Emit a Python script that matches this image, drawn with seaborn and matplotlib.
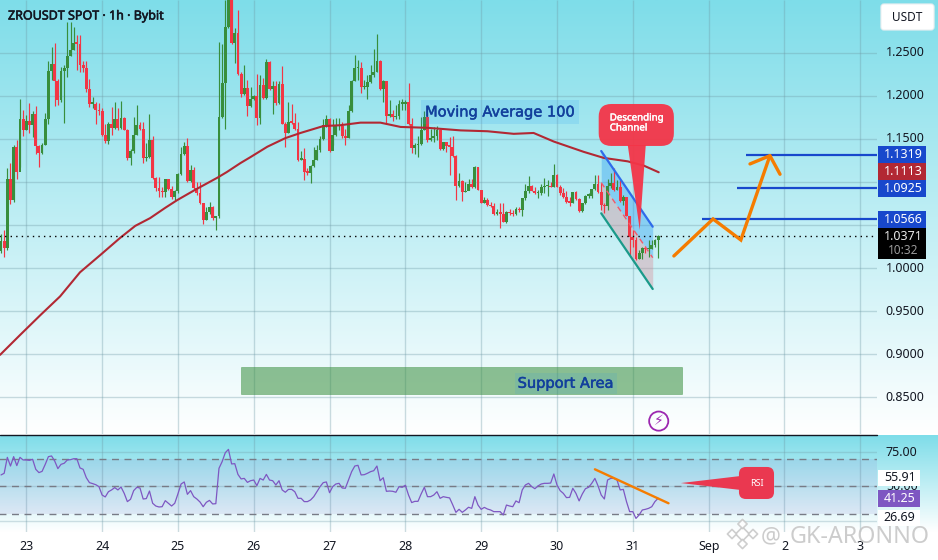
#!/usr/bin/env python
# -*- coding: utf-8 -*-
"""ZROUSDT 1h candles with MA100, channel drawing and an RSI pane."""

import numpy as np
import matplotlib
matplotlib.use('Agg')
import matplotlib.pyplot as plt
import matplotlib.patheffects as pe
import seaborn as sns
from matplotlib.colors import LinearSegmentedColormap
from matplotlib.patches import FancyBboxPatch, Polygon, Rectangle

# Hourly candles
first_open = 1.020
closes = [
    1.031, 1.023, 1.103, 1.079, 1.141, 1.112, 1.173, 1.160, 1.171, 1.166,
    1.179, 1.142, 1.134, 1.143, 1.173, 1.229, 1.237, 1.217, 1.195, 1.229,
    1.232, 1.247, 1.253, 1.262, 1.261, 1.236, 1.233, 1.208, 1.191, 1.191,
    1.184, 1.182, 1.155, 1.148, 1.167, 1.163, 1.173, 1.163, 1.174, 1.161,
    1.128, 1.136, 1.155, 1.166, 1.162, 1.128, 1.129, 1.149, 1.105, 1.093,
    1.089, 1.088, 1.103, 1.092, 1.082, 1.090, 1.109, 1.133, 1.142, 1.101,
    1.114, 1.093, 1.087, 1.075, 1.056, 1.065, 1.071, 1.058, 1.060, 1.175,
    1.215, 1.280, 1.323, 1.262, 1.273, 1.225, 1.202, 1.209, 1.188, 1.197,
    1.200, 1.174, 1.213, 1.198, 1.240, 1.208, 1.212, 1.192, 1.214, 1.168,
    1.157, 1.170, 1.169, 1.162, 1.126, 1.127, 1.112, 1.111,
    1.119, 1.126, 1.137, 1.150, 1.166, 1.173, 1.136, 1.155, 1.165, 1.165,
    1.153, 1.151, 1.182, 1.217, 1.232, 1.233, 1.210, 1.210, 1.216, 1.224,
    1.228, 1.241, 1.208, 1.217, 1.177, 1.179, 1.175, 1.177, 1.191, 1.191,
    1.193, 1.167, 1.140, 1.143, 1.144, 1.161, 1.176, 1.149, 1.151, 1.153,
    1.161, 1.138, 1.147, 1.142, 1.141, 1.130, 1.095, 1.101, 1.088, 1.090,
    1.098, 1.094, 1.117, 1.091, 1.076, 1.079, 1.073, 1.072, 1.063, 1.065,
    1.063, 1.053, 1.065, 1.064, 1.063, 1.069, 1.067, 1.081, 1.089, 1.095,
    1.089, 1.087, 1.087, 1.094, 1.095, 1.095, 1.094, 1.108, 1.094, 1.087,
    1.083, 1.077, 1.076, 1.088, 1.080, 1.066, 1.076, 1.084, 1.084, 1.092,
    1.098, 1.088,
    1.073, 1.072, 1.095, 1.099, 1.091, 1.094, 1.078, 1.083, 1.060, 1.036,
    1.033, 1.010, 1.017, 1.023, 1.022, 1.022, 1.027, 1.033, 1.0371,
]
highs = [
    1.040, 1.044, 1.116, 1.122, 1.143, 1.149, 1.196, 1.184, 1.178, 1.192,
    1.182, 1.188, 1.143, 1.145, 1.180, 1.241, 1.257, 1.262, 1.220, 1.234,
    1.236, 1.286, 1.286, 1.280, 1.271, 1.271, 1.241, 1.241, 1.220, 1.199,
    1.193, 1.192, 1.186, 1.167, 1.170, 1.187, 1.193, 1.186, 1.194, 1.176,
    1.162, 1.138, 1.176, 1.189, 1.170, 1.170, 1.145, 1.179, 1.153, 1.106,
    1.106, 1.094, 1.104, 1.104, 1.095, 1.091, 1.110, 1.141, 1.146, 1.151,
    1.120, 1.118, 1.100, 1.100, 1.075, 1.071, 1.077, 1.072, 1.060, 1.263,
    1.261, 1.312, 1.342, 1.342, 1.279, 1.300, 1.228, 1.236, 1.219, 1.211,
    1.201, 1.226, 1.224, 1.221, 1.243, 1.241, 1.218, 1.217, 1.217, 1.235,
    1.170, 1.193, 1.191, 1.180, 1.170, 1.136, 1.139, 1.116,
    1.120, 1.141, 1.143, 1.153, 1.173, 1.178, 1.174, 1.173, 1.174, 1.174,
    1.170, 1.162, 1.189, 1.219, 1.248, 1.242, 1.240, 1.219, 1.224, 1.236,
    1.255, 1.272, 1.242, 1.219, 1.217, 1.195, 1.184, 1.189, 1.195, 1.197,
    1.195, 1.215, 1.174, 1.145, 1.153, 1.176, 1.182, 1.180, 1.162, 1.164,
    1.165, 1.162, 1.147, 1.147, 1.152, 1.153, 1.131, 1.111, 1.102, 1.100,
    1.104, 1.104, 1.119, 1.118, 1.091, 1.083, 1.081, 1.077, 1.075, 1.069,
    1.075, 1.075, 1.066, 1.069, 1.067, 1.071, 1.071, 1.081, 1.098, 1.107,
    1.096, 1.094, 1.091, 1.098, 1.105, 1.102, 1.100, 1.121, 1.109, 1.096,
    1.093, 1.089, 1.083, 1.088, 1.089, 1.081, 1.076, 1.085, 1.087, 1.092,
    1.108, 1.108,
    1.099, 1.075, 1.104, 1.110, 1.116, 1.102, 1.102, 1.085, 1.083, 1.060,
    1.044, 1.036, 1.021, 1.024, 1.026, 1.033, 1.033, 1.034, 1.038,
]
lows = [
    1.017, 1.013, 1.021, 1.074, 1.077, 1.104, 1.118, 1.153, 1.160, 1.157,
    1.152, 1.133, 1.117, 1.133, 1.143, 1.167, 1.219, 1.188, 1.189, 1.193,
    1.169, 1.222, 1.246, 1.253, 1.230, 1.228, 1.228, 1.205, 1.187, 1.186,
    1.168, 1.178, 1.153, 1.145, 1.144, 1.155, 1.162, 1.160, 1.162, 1.160,
    1.126, 1.120, 1.134, 1.155, 1.160, 1.122, 1.124, 1.128, 1.104, 1.089,
    1.083, 1.083, 1.083, 1.091, 1.080, 1.079, 1.087, 1.108, 1.131, 1.100,
    1.100, 1.092, 1.085, 1.074, 1.051, 1.056, 1.063, 1.056, 1.044, 1.058,
    1.174, 1.162, 1.279, 1.261, 1.238, 1.224, 1.199, 1.201, 1.177, 1.187,
    1.195, 1.166, 1.167, 1.197, 1.197, 1.207, 1.179, 1.189, 1.191, 1.167,
    1.141, 1.157, 1.167, 1.160, 1.124, 1.125, 1.102, 1.108,
    1.099, 1.118, 1.126, 1.135, 1.149, 1.164, 1.135, 1.143, 1.153, 1.160,
    1.151, 1.143, 1.151, 1.181, 1.217, 1.219, 1.203, 1.208, 1.197, 1.215,
    1.222, 1.228, 1.207, 1.193, 1.167, 1.175, 1.171, 1.173, 1.173, 1.184,
    1.184, 1.166, 1.134, 1.132, 1.129, 1.143, 1.160, 1.147, 1.148, 1.147,
    1.149, 1.137, 1.137, 1.135, 1.108, 1.129, 1.079, 1.094, 1.078, 1.088,
    1.091, 1.093, 1.093, 1.091, 1.075, 1.075, 1.072, 1.071, 1.062, 1.062,
    1.047, 1.053, 1.052, 1.062, 1.060, 1.062, 1.065, 1.060, 1.079, 1.087,
    1.089, 1.086, 1.081, 1.085, 1.087, 1.084, 1.094, 1.094, 1.094, 1.085,
    1.081, 1.075, 1.072, 1.075, 1.079, 1.065, 1.065, 1.074, 1.081, 1.081,
    1.091, 1.087,
    1.067, 1.064, 1.067, 1.093, 1.089, 1.091, 1.077, 1.073, 1.060, 1.015,
    1.024, 1.009, 1.010, 1.011, 1.017, 1.013, 1.022, 1.025, 1.012,
]

# MA100 samples (hour, price)
ma_hours = [
    -0.3, 6, 12.4, 18.7, 25, 31.4, 37.7, 42.5, 47.2, 52, 55.8, 61.5, 68.5, 71.5,
    75.8, 79, 84.3, 90, 94.8, 102, 107.4, 113.8, 120.1, 126.5, 135, 145.5, 154,
    162.3, 168.6, 175, 184.5, 190.8, 198.4, 203.5, 208.2,
]
ma_prices = [
    0.899, 0.922, 0.945, 0.967, 0.995, 1.015, 1.035, 1.049, 1.058, 1.070, 1.079,
    1.091, 1.105, 1.1116, 1.122, 1.129, 1.141, 1.151, 1.157, 1.165, 1.166, 1.169,
    1.169, 1.164, 1.163, 1.160, 1.159, 1.156, 1.157, 1.147, 1.135, 1.128, 1.124,
    1.119, 1.1113,
]

# RSI, one value per candle
rsi = [
    58.4, 59.6, 71.2, 64.9, 71.7, 65.2, 71.2, 69.3, 69.3, 69.0, 69.8, 62.5, 60.1,
    61.0, 66.1, 71.7, 72.2, 68.5, 63.0, 66.1, 66.9, 69.3, 69.5, 70.2, 70.2, 63.5,
    62.5, 56.4, 52.8, 52.1, 51.3, 49.9, 43.8, 42.4, 46.2, 47.5, 49.2, 47.5, 49.6,
    45.0, 39.0, 40.7, 47.0, 49.4, 48.9, 40.9, 41.2, 46.7, 37.8, 35.8, 35.1, 35.3,
    39.7, 37.8, 35.8, 37.8, 44.6, 51.8, 53.3, 44.3, 47.0, 42.6, 40.9, 38.7, 35.3,
    38.5, 39.9, 37.3, 37.5, 63.2, 68.1, 74.6, 77.0, 66.4, 66.6, 58.8, 55.5, 55.9,
    53.0, 54.2, 54.7, 50.6, 55.9, 54.7, 58.8, 54.7, 54.2, 51.1, 54.2, 47.5, 45.8,
    47.9, 47.9, 46.2, 41.4, 41.4, 39.0, 39.0, 40.2, 42.6, 46.2, 49.9, 52.8, 53.3,
    45.5, 49.9, 51.8, 52.3, 48.9, 48.7, 54.7, 60.8, 64.9, 65.4, 58.4, 58.6, 59.6,
    60.8, 61.5, 64.9, 54.2, 56.4, 46.5, 46.7, 46.5, 45.8, 49.9, 49.4, 50.9, 43.8,
    38.3, 39.2, 39.2, 44.6, 49.4, 42.6, 42.6, 43.8, 46.2, 41.4, 42.6, 42.1, 41.7,
    36.6, 31.2, 33.4, 31.2, 32.9, 34.9,
    34.1, 42.6, 36.5, 33.4, 34.8, 33.6, 32.9, 31.7, 31.7, 31.7, 29.3, 36.5, 35.8,
    35.3, 39.5, 38.2, 47.5, 51.1, 52.3, 49.9, 48.4, 50.4, 51.8, 52.3, 52.3, 52.5,
    59.1, 51.1, 47.0, 45.0, 41.9, 42.1, 48.7, 45.0, 39.5, 44.5, 48.4, 49.4, 52.3,
    55.9, 50.4, 43.8, 40.9, 54.7, 55.9, 55.9, 54.7, 47.5, 47.9, 39.0, 31.7, 31.7,
    26.8, 29.3, 32.9, 33.4, 34.1, 35.3, 39.0, 41.4,
]

# Axis labels
day_hours = [8, 32, 56, 80, 104, 128, 152, 176, 200, 224, 248, 272]
day_labels = ['23', '24', '25', '26', '27', '28', '29', '30', '31', 'Sep', '2', '3']
grid_prices = [1.25, 1.20, 1.15, 1.10, 1.05, 1.00, 0.95, 0.90, 0.85]
price_labels = [1.25, 1.20, 1.15, 1.00, 0.95, 0.90, 0.85]
rsi_grid = [75, 50, 25]
rsi_levels = [70, 50, 30]

# Drawings on the chart
level_prices = [1.1319, 1.0925, 1.0566]
level_starts = [235.8, 233.0, 221.9]
channel_hours = [190, 206.3]
channel_top = [1.136, 1.048]
channel_mid = [1.0992, 1.012]
channel_bottom = [1.0636, 0.9756]
path_hours = [213, 225.4, 234.2, 243.4]
path_prices = [1.014, 1.057, 1.0326, 1.1306]
head_hours = [237.1, 243.4, 246.6]
head_prices = [1.121, 1.1306, 1.109]
rsi_line_hours = [188, 211.3]
rsi_line_vals = [62.5, 37.8]

last_price = 1.0371
UP = '#388e3c'
DOWN = '#f23645'
MA_RED = '#b22833'
TAG_BLUE = '#1848cc'
INK = '#131722'
GRID = '#6f9aa6'

sns.set_theme(style='white')
plt.rcParams['font.family'] = ['Noto Sans', 'DejaVu Sans']

sky = LinearSegmentedColormap.from_list('sky', ['#7edde9', '#ffffff'])
heavy = [pe.withStroke(linewidth=0.35, foreground='#123f9c')]


def panel(fig, left, top, right, bottom):
    """Axes placed by pixel edges, with the sky gradient behind."""
    ax = fig.add_axes([left / 938, 1 - bottom / 560, (right - left) / 938, (bottom - top) / 560])
    ax.imshow(np.linspace(0, 1, 256).reshape(-1, 1), cmap=sky, aspect='auto',
              extent=(0, 1, 0, 1), transform=ax.transAxes, zorder=0)
    for spine in ax.spines.values():
        spine.set_visible(False)
    ax.set_xticks([])
    ax.set_yticks([])
    return ax


def draw_candles(ax):
    opens = np.array([first_open] + closes[:-1])
    shut = np.array(closes)
    hours = np.arange(len(shut))
    colours = [UP if c >= o else DOWN for o, c in zip(opens, shut)]
    ax.vlines(hours, lows, highs, colors=colours, linewidth=0.85, zorder=3)
    ax.bar(hours, np.maximum(np.abs(shut - opens), 0.0015), bottom=np.minimum(opens, shut),
           width=0.9, color=colours, linewidth=0, zorder=3)


def callout(ax, x0, x1, y0, y1, tail, colour, alpha, size_x, aspect):
    """Rounded label box with a pointer."""
    ax.add_patch(FancyBboxPatch((x0, y0), x1 - x0, y1 - y0, mutation_aspect=aspect,
                                boxstyle=f'round,pad=0,rounding_size={size_x}',
                                fc=colour, ec='none', alpha=alpha, zorder=6))
    ax.add_patch(Polygon(tail, closed=True, fc=colour, ec='none', alpha=alpha, zorder=6))


def tag(ax, y0, y1, colour, label, text_colour='white', bold=True, width=49):
    ax.add_patch(Rectangle((0, y0), width, y1 - y0, fc=colour, ec='none', zorder=4))
    ax.text(26 if width > 45 else 22, (y0 + y1) / 2, label, color=text_colour, ha='center', va='center',
            fontsize=9, fontweight='bold' if bold else 'normal', zorder=5)


def plot_price(ax, side):
    ax.set_xlim(-0.32, 277.3)
    ax.set_ylim(0.8070, 1.3116)
    ax.vlines(day_hours, 0.807, 1.3116, color=GRID, alpha=0.35, linewidth=1, zorder=1)
    ax.hlines(grid_prices, -1, 278, color=GRID, alpha=0.35, linewidth=1, zorder=1)

    # support box sits under the candles
    ax.add_patch(Rectangle((76.1, 0.8535), 139.4, 0.0314, fc=UP, ec=UP, lw=0.5, alpha=0.55, zorder=2))
    ax.text(178.8, 0.866, 'Support Area', color='#123f9c', fontsize=10.5, family='DejaVu Sans',
            ha='center', va='center', zorder=7, path_effects=heavy,
            bbox=dict(fc='#2196f3', ec='none', alpha=0.12, pad=2))

    # descending channel
    ax.fill_between(channel_hours, channel_mid, channel_top, color='#2196f3', alpha=0.35, lw=0, zorder=2)
    ax.fill_between(channel_hours, channel_bottom, channel_mid, color='#d8838f', alpha=0.35, lw=0, zorder=2)

    draw_candles(ax)
    sns.lineplot(x=ma_hours, y=ma_prices, ax=ax, color=MA_RED, linewidth=1.5, legend=False, zorder=4)

    ax.plot(channel_hours, channel_top, color='#2f6bea', lw=1.6, zorder=5, solid_capstyle='round')
    ax.plot(channel_hours, channel_bottom, color='#1a9a8a', lw=1.6, zorder=5, solid_capstyle='round')
    ax.plot(channel_hours, channel_mid, color='#f2596a', lw=1, ls=(0, (4, 3)), zorder=5)

    ax.hlines(last_price, -1, 278, color='black', lw=1, ls=(0, (1, 3)), zorder=4)
    for price, start in zip(level_prices, level_starts):
        ax.hlines(price, start, 278, color=TAG_BLUE, lw=1.6, zorder=5)

    ax.plot(path_hours, path_prices, color='#f57c00', lw=2.4, zorder=6, solid_joinstyle='miter')
    ax.plot(head_hours, head_prices, color='#f57c00', lw=2.4, zorder=6)

    ax.text(158, 1.1814, 'Moving Average 100', color='#123f9c', fontsize=10.5, family='DejaVu Sans',
            ha='center', va='center', zorder=7, path_effects=heavy,
            bbox=dict(fc='#2196f3', ec='none', alpha=0.15, pad=3))

    callout(ax, 189.2, 213, 1.1419, 1.1907, [(198.4, 1.143), (204.1, 1.143), (202.2, 1.0442)],
            '#f43548', 0.95, 4, 0.00367)
    ax.text(192.7, 1.1686, 'Descending\nChannel', color='white', fontsize=7, fontweight='bold',
            ha='left', va='center', linespacing=1.15, zorder=7,
            path_effects=[pe.withStroke(linewidth=0.3, foreground='white')])

    # purple alert badge
    ax.scatter([208.2], [0.822], s=190, facecolor='none', edgecolor='#9c27b0', linewidth=1.3, zorder=6)
    ax.text(208.2, 0.822, '\u26a1', color='#9c27b0', fontsize=10, family='DejaVu Sans',
            ha='center', va='center', zorder=7)

    # price scale
    side.set_xlim(0, 61)
    side.set_ylim(0.8070, 1.3116)
    for price in price_labels:
        side.text(8, price, f'{price:.4f}', color=INK, fontsize=9, va='center',
                  fontweight='bold' if price == 1.20 else 'normal')
    side.add_patch(FancyBboxPatch((3, 1.2767), 54, 0.0303, mutation_aspect=1 / 860,
                                  boxstyle='round,pad=0,rounding_size=3', fc='white', ec='#e8eef0', lw=0.8, zorder=4))
    side.text(30, 1.2918, 'USDT', color=INK, fontsize=8.5, ha='center', va='center', zorder=5)
    tag(side, 1.1220, 1.1418, TAG_BLUE, '1.1319')
    tag(side, 1.1023, 1.1220, MA_RED, '1.1113')
    tag(side, 1.0825, 1.1023, TAG_BLUE, '1.0925')
    tag(side, 1.0465, 1.0663, TAG_BLUE, '1.0566')
    side.add_patch(Rectangle((0, 1.0105), 49, 0.036, fc='black', ec='none', zorder=4))
    side.text(26, 1.0371, '1.0371', color='#e8e8e8', fontsize=9, fontweight='bold', ha='center', va='center', zorder=5)
    side.text(26, 1.0198, '10:32', color='#9a9a9a', fontsize=8.5, ha='center', va='center', zorder=5)


def plot_rsi(ax, side):
    ax.set_xlim(-0.32, 277.3)
    ax.set_ylim(16.9, 87.45)
    ax.vlines(day_hours, 16.9, 87.45, color=GRID, alpha=0.35, linewidth=1, zorder=1)
    ax.hlines(rsi_grid, -1, 278, color=GRID, alpha=0.3, linewidth=1, zorder=1)
    ax.axhspan(30, 70, color='#7e57c2', alpha=0.1, lw=0, zorder=1)
    ax.hlines(rsi_levels, -1, 278, color='#787b86', lw=1, ls=(0, (5, 4)), zorder=2)
    sns.lineplot(x=np.arange(len(rsi)), y=rsi, ax=ax, color='#7e57c2', linewidth=0.9, legend=False, zorder=3)
    ax.plot(rsi_line_hours, rsi_line_vals, color='#f57c00', lw=1.7, zorder=5)

    callout(ax, 233.6, 244.7, 40.9, 64.2, [(234, 57.6), (234, 47.5), (215.2, 52.5)],
            '#ea3850', 1.0, 2.2, 2.3)
    ax.text(239.2, 52.5, 'RSI', color='white', fontsize=6.5, fontweight='bold', ha='center', va='center', zorder=7)

    ax.set_xticks(day_hours)
    ax.set_xticklabels(day_labels, color=INK, fontsize=9)
    ax.tick_params(axis='x', length=0, pad=6)
    ax.get_xticklabels()[9].set_fontweight('bold')

    side.set_xlim(0, 61)
    side.set_ylim(16.9, 87.45)
    side.text(8, 75, '75.00', color=INK, fontsize=9, va='center')
    side.text(8, 50, '50.00', color=INK, fontsize=9, va='center', zorder=2)
    tag(side, 50.4, 62.0, 'white', '55.91', text_colour=INK, bold=False, width=43)
    tag(side, 35.1, 47.5, '#7e57c2', '41.25', width=43)
    tag(side, 21.3, 32.9, 'white', '26.69', text_colour=INK, bold=False, width=43)


def main():
    fig = plt.figure(figsize=(9.38, 5.6), dpi=100, facecolor='white')
    ax_price = panel(fig, 0, 0, 877, 434)
    side_price = panel(fig, 878, 0, 938, 434)
    ax_rsi = panel(fig, 0, 435, 877, 532)
    side_rsi = panel(fig, 878, 435, 938, 532)

    plot_price(ax_price, side_price)
    plot_rsi(ax_rsi, side_rsi)

    # frame line between the panes
    fig.add_artist(plt.Line2D([0, 877 / 938], [1 - 434.5 / 560] * 2, color='#131722', lw=1))

    fig.text(8 / 938, 1 - 16 / 560, 'ZROUSDT SPOT \u00b7 1h \u00b7 Bybit', color=INK, fontsize=9,
             va='center', path_effects=[pe.withStroke(linewidth=0.4, foreground=INK)])

    # watermark over everything
    overlay = fig.add_axes([0, 0, 1, 1], facecolor='none')
    overlay.set_xlim(0, 938)
    overlay.set_ylim(560, 0)
    overlay.axis('off')
    overlay.scatter([742.5, 742.5, 742.5, 732, 753], [534, 524, 544, 534, 534],
                    marker='D', s=[50, 22, 22, 22, 22], facecolor='white', edgecolor='#c9c9c9', linewidth=1.2, alpha=0.9)
    overlay.text(761, 537, '@', color='#c4c4c4', fontsize=16, va='center', alpha=0.85)
    overlay.text(790, 537, 'GK-ARONNO', color='#c4c4c4', fontsize=16.8, va='center', alpha=0.85)

    fig.savefig('out.png', dpi=100)
    plt.close(fig)


if __name__ == '__main__':
    main()
